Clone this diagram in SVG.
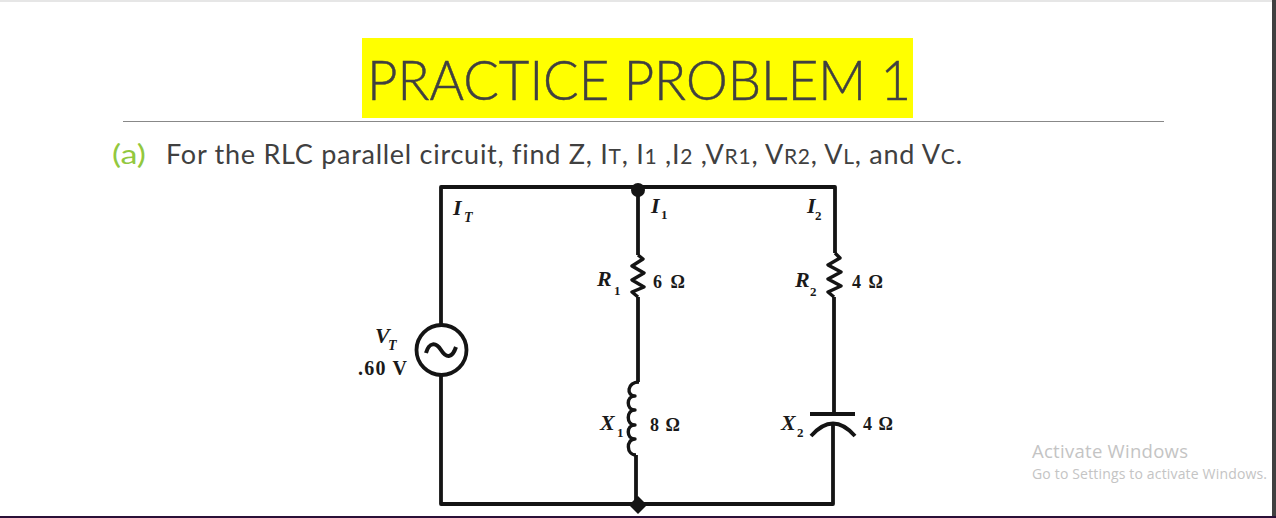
<svg xmlns="http://www.w3.org/2000/svg" width="1276" height="518" viewBox="0 0 1276 518">
<style>
.wire{fill:none;stroke:#141414;stroke-width:3.8;stroke-linejoin:round}
.thin{fill:none;stroke:#141414;stroke-width:3.4;stroke-linejoin:round}
.lab{font-family:"Liberation Serif",serif;font-weight:bold;fill:#1a1a1a;font-size:18px}
.big{font-size:22px;font-style:italic}
.subi{font-size:14px;font-style:italic}
.subn{font-size:13px}
.body{font-family:Lato,"Open Sans",sans-serif;fill:#404040;font-size:27px;font-variant-ligatures:none}
.sub{font-size:21px}
.wm{font-family:"Open Sans","Noto Sans",sans-serif;fill:#c4c4c4}
</style>
<rect width="1276" height="518" fill="#fff"/>
<rect x="0" y="0" width="1276" height="2" fill="#e6e6e6"/>
<rect x="1272" y="0" width="4" height="518" fill="#404040"/>
<rect x="0" y="516" width="1276" height="2" fill="#2b1038"/>
<g id="title">
<rect x="362" y="38" width="551" height="80" fill="#ffff00"/>
<text x="367" y="100" font-family="Lato, Open Sans, sans-serif" font-weight="300" font-size="56" fill="#404040" stroke="#404040" stroke-width="0.5" textLength="544" lengthAdjust="spacingAndGlyphs">PRACTICE PROBLEM 1</text>
</g>
<line x1="123" y1="121.500" x2="1164" y2="121.500" stroke="#888" stroke-width="1"/>
<g id="question">
<text x="112" y="164" class="body" style="fill:#92c83e" textLength="34" lengthAdjust="spacingAndGlyphs">(a)</text>
<text x="166" y="164" class="body" textLength="796" lengthAdjust="spacing">For the RLC parallel circuit, find Z, I<tspan class="sub">T</tspan>, I<tspan class="sub">1</tspan> ,I<tspan class="sub">2</tspan> ,V<tspan class="sub">R1</tspan>, V<tspan class="sub">R2</tspan>, V<tspan class="sub">L</tspan>, and V<tspan class="sub">C</tspan>.</text>
</g>
<g id="connectors">
<path class="wire" d="M441 326V187H835V253M834 297V414M833 423V504H441V376"/>
<path class="wire" d="M638 187V255M638 297V382M636 455V505"/>
</g>
<g id="junction-top"><circle cx="638" cy="190" r="7" fill="#141414"/></g>
<g id="junction-bottom"><path d="M638 496L647 505L638 514L629 505Z" fill="#141414"/></g>
<g id="source">
<circle cx="441.500" cy="350" r="25" fill="#fff" stroke="#141414" stroke-width="3.8"/>
<path d="M426 353C429 342 436 342 441 350S452 359 456 347" fill="none" stroke="#141414" stroke-width="4"/>
</g>
<g id="R1"><path class="thin" d="M638 255L643 259L632 266L644 273L632 280L644 287L632 292L638 297"/></g>
<g id="X1"><path class="thin" d="M639 382C627 382 626 396 635 396C626 396 626 410 635 410C626 410 626 425 635 425C626 425 626 439 635 439C626 439 626 455 636 455"/></g>
<g id="R2"><path class="thin" d="M835 253L840 258L828 265L841 272L828 279L841 286L828 292L834 297"/></g>
<g id="X2">
<line x1="810" y1="414" x2="855" y2="414" stroke="#141414" stroke-width="3.8"/>
<path d="M811 436Q833 411 855 436" fill="none" stroke="#141414" stroke-width="3.8"/>
</g>
<g id="labels">
<text x="453" y="215" class="lab big">I</text><text x="464" y="222" class="lab subi">T</text>
<text x="651" y="213" class="lab big">I</text><text x="661" y="219" class="lab subn">1</text>
<text x="807" y="213" class="lab big">I</text><text x="815" y="220" class="lab subn">2</text>
<text x="597" y="286" class="lab big">R</text><text x="614" y="295" class="lab subn">1</text>
<text x="653" y="288" class="lab" textLength="32">6 Ω</text>
<text x="795" y="287" class="lab big">R</text><text x="810" y="296" class="lab subn">2</text>
<text x="852" y="288" class="lab" textLength="31">4 Ω</text>
<text x="375" y="343" class="lab big">V</text><text x="388" y="350" class="lab subi">T</text>
<text x="358" y="375" class="lab" style="font-size:20px" textLength="49">.60 V</text>
<text x="600" y="430" class="lab big">X</text><text x="617" y="437" class="lab subn">1</text>
<text x="650" y="431" class="lab" textLength="30">8 Ω</text>
<text x="781" y="430" class="lab big">X</text><text x="797" y="437" class="lab subn">2</text>
<text x="863" y="430" class="lab" textLength="30">4 Ω</text>
</g>
<g id="watermark">
<text x="1032" y="458" class="wm" font-size="18.500" textLength="156">Activate Windows</text>
<text x="1032" y="479" class="wm" font-size="14" textLength="235">Go to Settings to activate Windows.</text>
</g>
</svg>
